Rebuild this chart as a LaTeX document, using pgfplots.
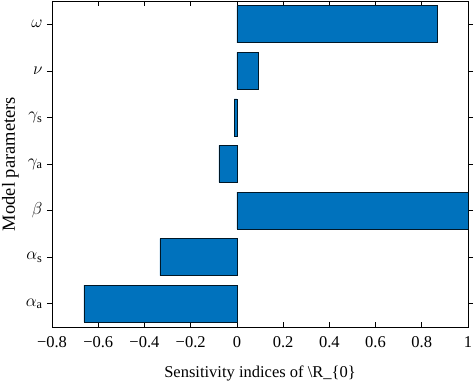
\documentclass[border=0pt]{standalone}
\usepackage{fontspec}
\setmainfont{Liberation Serif}
\usepackage{pgfplots}
\pgfplotsset{compat=1.18}
\definecolor{mblue}{RGB}{0,114,189}
\begin{document}
\begin{tikzpicture}[font=\fontsize{16.5}{19}\selectfont]
\begin{axis}[
  scale only axis,
  width=416pt, height=326pt,
  xmin=-0.8, xmax=1,
  ymin=0.5, ymax=7.5,
  xtick={-0.8,-0.6,-0.4,-0.2,0,0.2,0.4,0.6,0.8,1},
  xticklabels={−0.8,−0.6,−0.4,−0.2,0,0.2,0.4,0.6,0.8,1},
  ytick={1,2,3,4,5,6,7},
  yticklabels={$\alpha_{\mathrm{a}}$,$\alpha_{\mathrm{s}}$,$\beta$,$\gamma_{\mathrm{a}}$,$\gamma_{\mathrm{s}}$,$\nu$,$\omega$},
  tick align=inside,
  major tick length=5pt,
  tick style={black, line width=0.6pt},
  axis line style={line width=0.8pt},
  every tick label/.append style={font=\fontsize{16.5}{19}\selectfont},
  every axis label/.append style={font=\fontsize{16.5}{19}\selectfont},
  x tick label style={yshift=-6pt},
  y tick label style={xshift=-1pt, font=\fontsize{17.5}{19}\selectfont},
  xlabel={Sensitivity indices of \textbackslash R\_\{0\}},
  ylabel={Model parameters},
  xlabel style={yshift=-11pt},
  ylabel style={font=\fontsize{18.5}{21}\selectfont},
  xbar, bar width=37pt,
]
\addplot[fill=mblue, draw=black!80!mblue, line width=0.6pt] coordinates {
  (-0.662,1) (-0.333,2) (1.0,3) (-0.078,4) (-0.012,5) (0.091,6) (0.867,7)
};
\end{axis}
\pgfresetboundingbox
\path ([shift={(-52pt,-57pt)}]current axis.south west) rectangle ([shift={(6pt,1pt)}]current axis.north east);
\end{tikzpicture}
\end{document}
